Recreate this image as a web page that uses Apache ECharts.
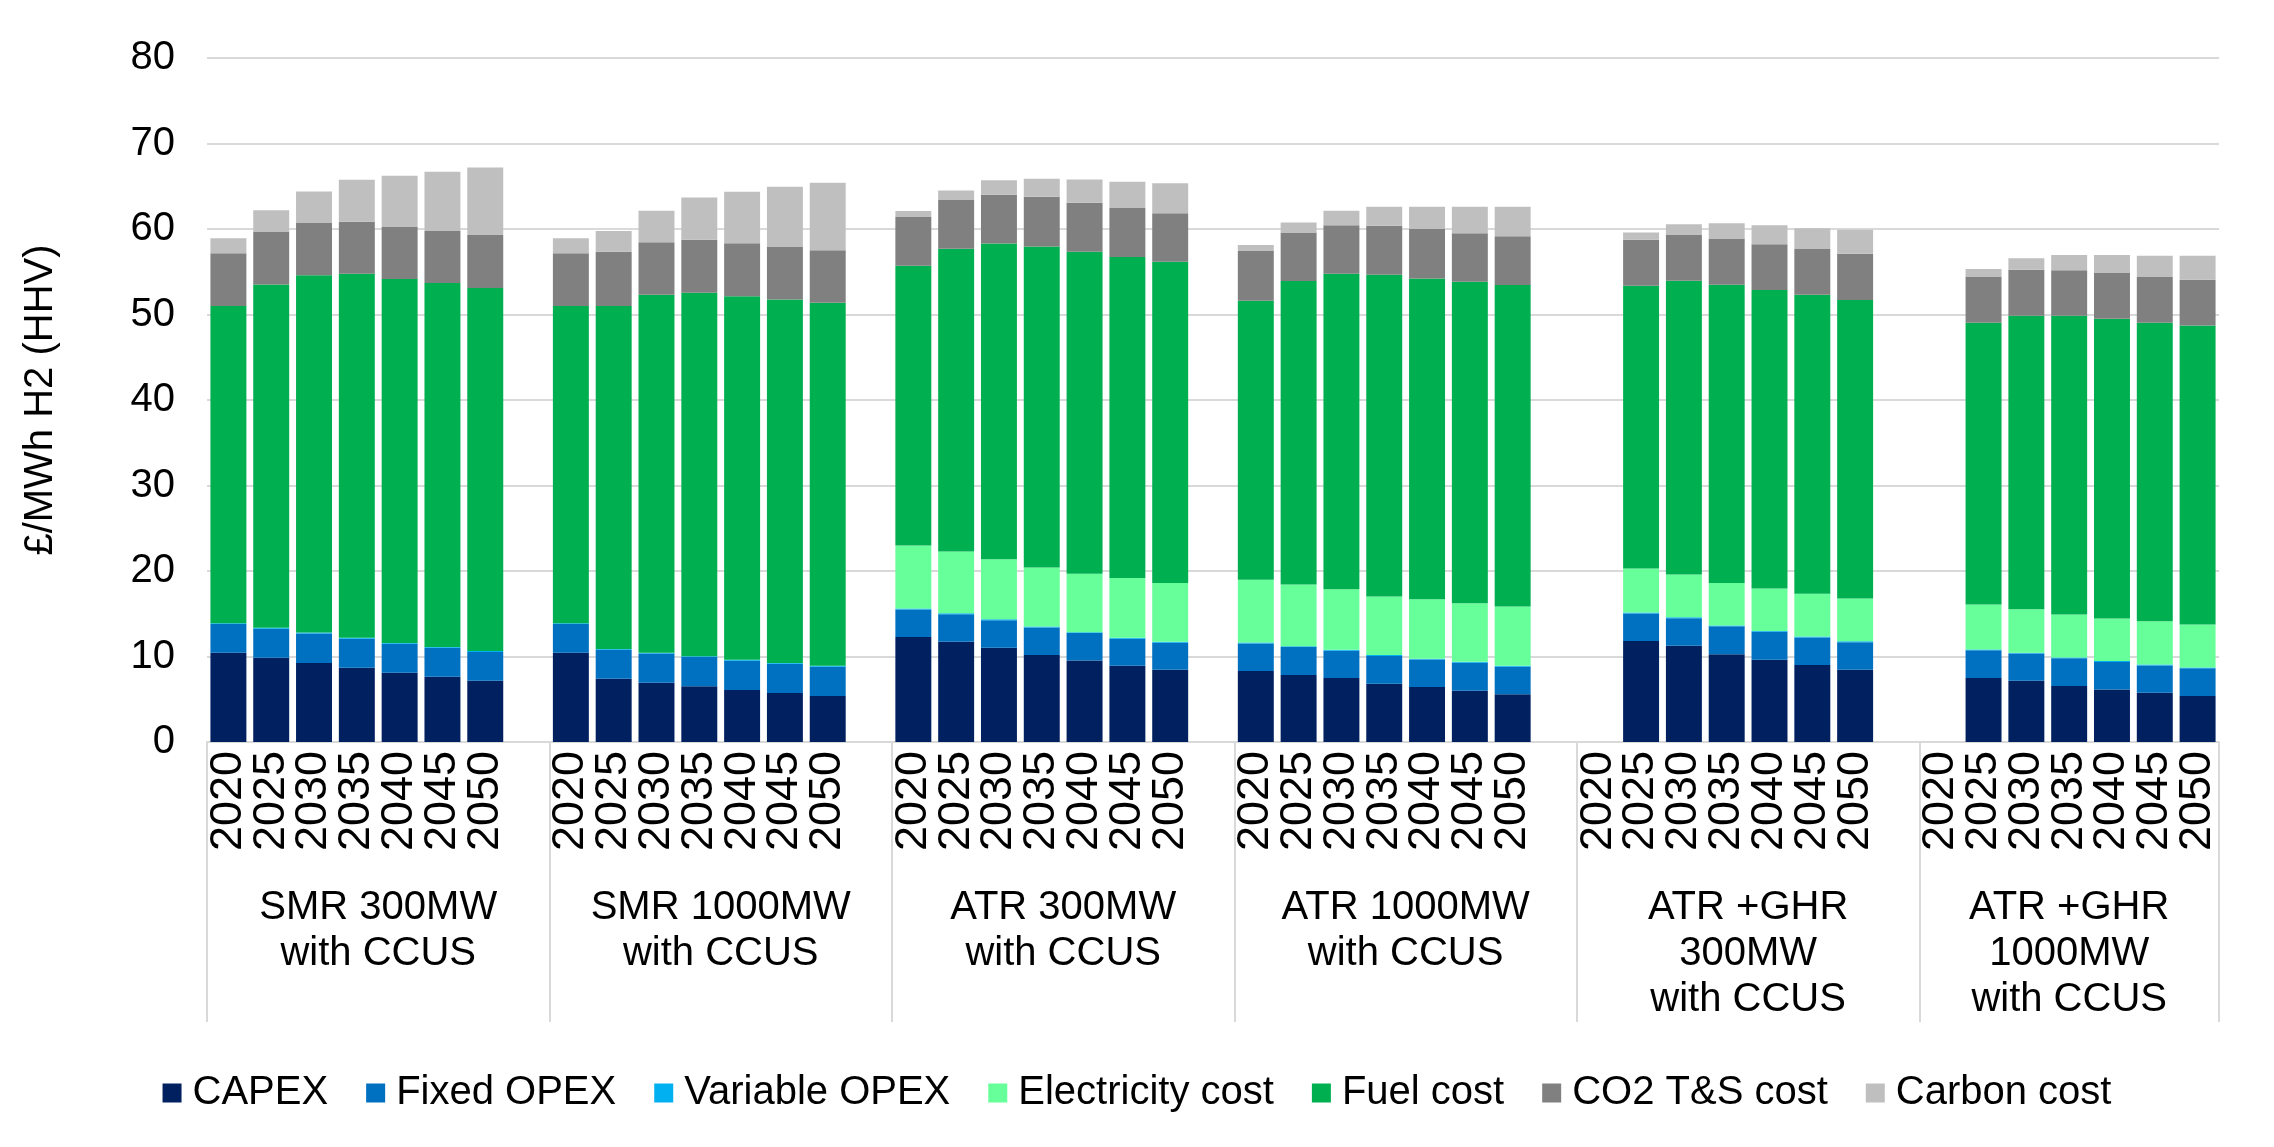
<!DOCTYPE html>
<html>
<head>
<meta charset="utf-8">
<script src="https://cdn.jsdelivr.net/npm/echarts@6/dist/echarts.min.js"></script>
<style>
html,body{margin:0;padding:0;background:#fff;}
#chart{width:2274px;height:1147px;}
</style>
</head>
<body>
<div id="chart"></div>
<script>
// ---- data ----
const groups = ["SMR 300MW\nwith CCUS", "SMR 1000MW\nwith CCUS", "ATR 300MW\nwith CCUS", "ATR 1000MW\nwith CCUS", "ATR +GHR\n300MW\nwith CCUS", "ATR +GHR\n1000MW\nwith CCUS"];
const years = ["2020", "2025", "2030", "2035", "2040", "2045", "2050"];
const yTicks = [0, 10, 20, 30, 40, 50, 60, 70, 80];
const seriesNames = ["CAPEX", "Fixed OPEX", "Variable OPEX", "Electricity cost", "Fuel cost", "CO2 T&S cost", "Carbon cost"];
const seriesColors = ["#002060", "#0070C0", "#00B0F0", "#66FF99", "#00B050", "#808080", "#BFBFBF"];

// values per series: 6 groups x 7 years
const capex = [
  10.45, 9.85, 9.24, 8.67, 8.11, 7.64, 7.17,
  10.45, 7.41, 6.94, 6.52, 6.09, 5.72, 5.39,
  12.28, 11.72, 11.02, 10.17, 9.52, 8.91, 8.44,
  8.30, 7.83, 7.50, 6.80, 6.42, 6.00, 5.58,
  null, 11.81, 11.25, 10.27, 9.61, 9.00, 8.44,
  null, 7.50, 7.17, 6.56, 6.14, 5.76, 5.39
];
const fixedOpex = [
  3.35, 3.41, 3.46, 3.42, 3.37, 3.37, 3.37,
  3.35, 3.37, 3.41, 3.41, 3.42, 3.42, 3.42,
  3.23, 3.23, 3.23, 3.23, 3.23, 3.18, 3.18,
  3.23, 3.27, 3.18, 3.27, 3.23, 3.28, 3.23,
  null, 3.23, 3.23, 3.27, 3.28, 3.23, 3.23,
  null, 3.23, 3.18, 3.23, 3.23, 3.19, 3.23
];
const variableOpex = [
  0.1, 0.1, 0.1, 0.1, 0.1, 0.1, 0.1,
  0.1, 0.1, 0.1, 0.1, 0.1, 0.1, 0.1,
  0.1, 0.1, 0.1, 0.1, 0.1, 0.1, 0.1,
  0.1, 0.1, 0.1, 0.1, 0.1, 0.1, 0.1,
  null, 0.1, 0.1, 0.1, 0.1, 0.1, 0.1,
  null, 0.1, 0.1, 0.1, 0.1, 0.1, 0.1
];
const electricity = [
  0, 0, 0, 0, 0, 0, 0,
  0, 0, 0, 0, 0, 0, 0,
  7.36, 7.22, 7.03, 6.90, 6.84, 6.98, 6.89,
  7.36, 7.22, 7.08, 6.85, 6.94, 6.84, 6.94,
  null, 5.16, 5.02, 4.97, 4.97, 5.02, 5.01,
  null, 5.25, 5.07, 5.02, 4.97, 5.06, 5.02
];
const fuel = [
  37.10, 40.14, 41.80, 42.57, 42.57, 42.57, 42.46,
  37.10, 40.12, 41.87, 42.52, 42.52, 42.52, 42.47,
  32.73, 35.43, 36.92, 37.55, 37.65, 37.56, 37.55,
  32.63, 35.49, 36.90, 37.64, 37.51, 37.60, 37.59,
  null, 33.05, 34.36, 34.88, 34.92, 34.97, 34.93,
  null, 32.96, 34.32, 34.93, 35.07, 34.93, 34.97
];
const co2TS = [
  6.15, 6.20, 6.10, 6.09, 6.09, 6.09, 6.20,
  6.15, 6.34, 6.14, 6.19, 6.19, 6.19, 6.14,
  5.70, 5.70, 5.70, 5.81, 5.72, 5.72, 5.68,
  5.81, 5.68, 5.67, 5.72, 5.80, 5.67, 5.72,
  null, 5.39, 5.34, 5.39, 5.35, 5.35, 5.39,
  null, 5.39, 5.39, 5.34, 5.34, 5.34, 5.34
];
const carbon = [
  1.78, 2.50, 3.70, 4.92, 6.00, 6.94, 7.88,
  1.78, 2.43, 3.66, 4.93, 6.05, 6.98, 7.88,
  0.70, 1.10, 1.70, 2.11, 2.72, 3.09, 3.51,
  0.70, 1.17, 1.69, 2.21, 2.59, 3.10, 3.43,
  null, 0.85, 1.27, 1.79, 2.20, 2.43, 2.82,
  null, 0.89, 1.36, 1.78, 2.11, 2.49, 2.82
];
const seriesValues = [capex, fixedOpex, variableOpex, electricity, fuel, co2TS, carbon];

// ---- build category layout: 7 years per group, one blank slot between groups ----
const nY = years.length;
const categories = [];
const slotIndex = []; // maps (group, year) -> category index
groups.forEach((g, gi) => {
  years.forEach((y) => { slotIndex.push(categories.length); categories.push(y); });
  if (gi < groups.length - 1) categories.push("");
});
const nCat = categories.length;
function expand(arr) {
  const out = new Array(nCat).fill(null);
  arr.forEach((v, i) => { out[slotIndex[i]] = v; });
  return out;
}
const groupStarts = [];
const groupCenters = [];
groups.forEach((g, gi) => {
  const s = slotIndex[gi * nY];
  const e = gi < groups.length - 1 ? s + nY + 1 : s + nY;
  groupStarts.push(s);
  groupCenters.push((s + e) / 2);
});
const dividers = groupStarts.concat([nCat]);

const FONT = "Liberation Sans, Arial, sans-serif";
const chart = echarts.init(document.getElementById('chart'), null, {renderer: 'canvas'});
const option = {
  animation: false,
  backgroundColor: '#ffffff',
  textStyle: {fontFamily: FONT},
  grid: {left: 207, right: 55, top: 58, bottom: 405, containLabel: false},
  legend: {
    top: 1068, left: 'center',
    icon: 'rect', itemWidth: 19, itemHeight: 19, itemGap: 38,
    textStyle: {fontSize: 40, color: '#000', fontFamily: FONT, padding: [0, 0, 0, 6]},
    data: seriesNames
  },
  xAxis: [
    {
      type: 'category', data: categories, boundaryGap: true,
      axisLine: {lineStyle: {color: '#d9d9d9', width: 2}},
      axisTick: {show: false},
      axisLabel: {interval: 0, rotate: 90, fontSize: 45, color: '#000', margin: 9, fontFamily: FONT},
      splitLine: {show: false}
    },
    {
      type: 'value', min: 0, max: nCat, position: 'bottom',
      axisLine: {show: false},
      splitLine: {show: false},
      axisTick: {show: true, customValues: dividers, length: 280, inside: false, lineStyle: {color: '#d9d9d9', width: 2}},
      axisLabel: {
        show: true, customValues: groupCenters, margin: 143,
        fontSize: 40, lineHeight: 46, color: '#000', fontFamily: FONT, align: 'center',
        formatter: function (v) {
          const i = groupCenters.findIndex(c => Math.abs(c - v) < 1e-6);
          return i >= 0 ? groups[i] : '';
        }
      }
    }
  ],
  yAxis: {
    type: 'value', min: yTicks[0], max: yTicks[yTicks.length - 1], interval: 10,
    name: '£/MWh H2 (HHV)', nameLocation: 'middle', nameGap: 146, nameRotate: 90,
    nameTextStyle: {fontSize: 40, color: '#000', fontFamily: FONT},
    axisLine: {show: false}, axisTick: {show: false},
    axisLabel: {fontSize: 40, color: '#000', margin: 32, fontFamily: FONT},
    splitLine: {lineStyle: {color: '#d9d9d9', width: 2}}
  },
  series: seriesNames.map((name, i) => ({
    name: name, type: 'bar', stack: 'total', xAxisIndex: 0,
    barCategoryGap: '16%',
    itemStyle: {color: seriesColors[i]},
    emphasis: {disabled: true},
    data: expand(seriesValues[i])
  }))
};
chart.setOption(option);
</script>
</body>
</html>
